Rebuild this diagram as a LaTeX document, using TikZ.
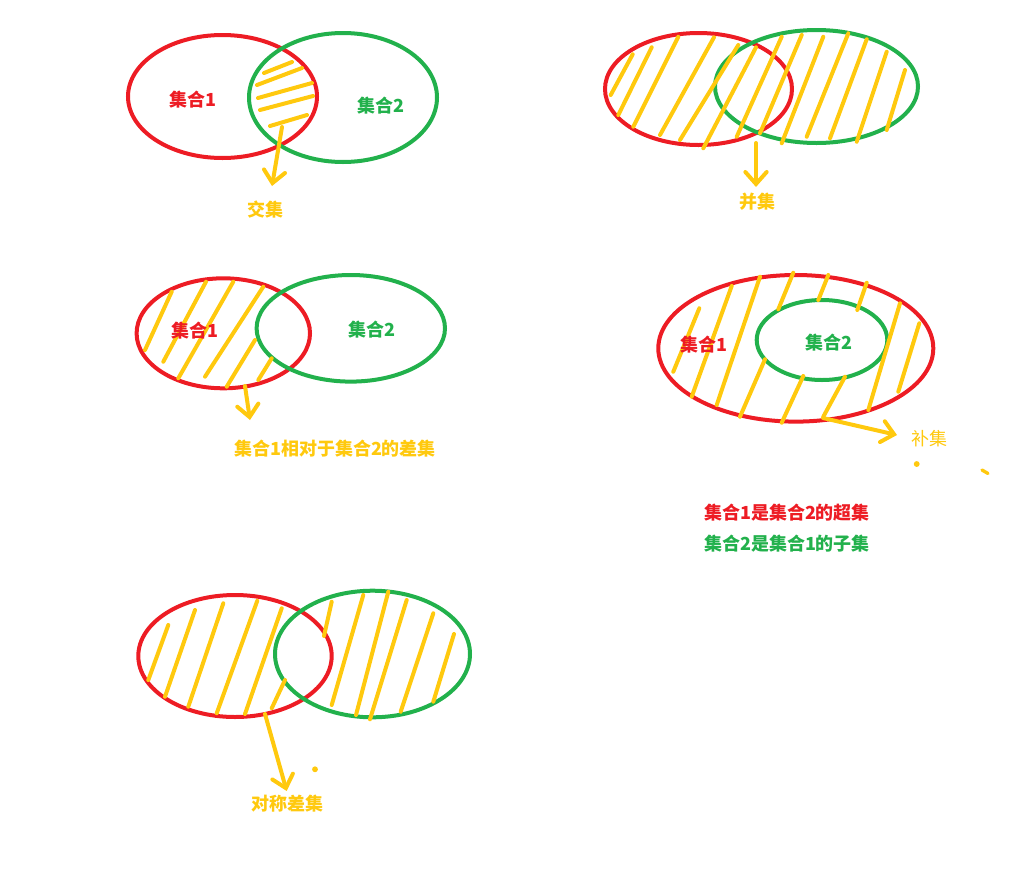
\documentclass[tikz,border=0pt]{standalone}
\usepackage{fontspec}
\newfontfamily\cjk{Noto Sans CJK SC}
\usetikzlibrary{arrows.meta}
\definecolor{sred}{HTML}{ED1C24}
\definecolor{sgreen}{HTML}{22B14C}
\definecolor{syel}{HTML}{FFC90E}
\tikzset{
  setred/.style={draw=sred,line width=3pt},
  setgreen/.style={draw=sgreen,line width=3pt},
  hatch/.style={draw=syel,line width=3pt,line cap=round},
  pointer/.style={draw=syel,line width=3pt,line cap=round,line join=round,-{Straight Barb[length=9pt,width=16pt,line cap=round]}},
  lbl/.style={font=\cjk\bfseries\fontsize{13.5pt}{15pt}\selectfont,inner sep=0pt},
}
\begin{document}
\begin{tikzpicture}[x=0.75pt,y=-0.75pt]
\useasboundingbox (0,0) rectangle (1025,868);
% ---------- diagram 1: intersection ----------
\draw[setred] (222.5,96.5) ellipse [x radius=94.5,y radius=61.5];
\draw[setgreen] (343,97.5) ellipse [x radius=94,y radius=64.5];
\draw[hatch] (264,73)--(292,62);
\draw[hatch] (257,85)--(302,68);
\draw[hatch] (258,98)--(312,83);
\draw[hatch] (260,110)--(313,96);
\draw[hatch] (270,126)--(307,115);
\node[lbl,text=sred] (l1a) at (193,100) {集合1};
\node[lbl,text=sgreen] (l1b) at (381,106) {集合2};
\node[lbl,text=syel] (t1) at (265,210) {交集};
\coordinate (s1) at (282,127);
\coordinate (e1) at (272,186);
\draw[pointer] (s1)--(e1);
% ---------- diagram 2: union ----------
\draw[setred] (698.5,89) ellipse [x radius=93.5,y radius=56];
\draw[setgreen] (816.5,86.5) ellipse [x radius=101.5,y radius=56.5];
\draw[hatch] (610.7,95)--(632.7,54.3);
\draw[hatch] (618.3,115)--(651.7,47.3);
\draw[hatch] (633.3,126.7)--(678.3,36.7);
\draw[hatch] (660,135)--(714,37.3);
\draw[hatch] (680,140)--(738.3,45);
\draw[hatch] (703.3,148.3)--(756,47.3);
\draw[hatch] (736.7,136.7)--(781.7,36.7);
\draw[hatch] (760,133.3)--(801.7,35);
\draw[hatch] (781.7,143.3)--(823.3,36.7);
\draw[hatch] (806.7,136.7)--(848.3,33.3);
\draw[hatch] (830,138.3)--(866.7,39.3);
\draw[hatch] (856.7,141.7)--(886.7,51.7);
\draw[hatch] (886.7,130)--(905,70);
\node[lbl,text=syel] (t2) at (757,202) {并集};
\coordinate (s2) at (756,143);
\coordinate (e2) at (756,187);
\draw[pointer] (s2)--(e2);
% ---------- diagram 3: difference ----------
\draw[setred] (223.3,333.3) ellipse [x radius=86.7,y radius=55];
\draw[setgreen] (350.8,328.3) ellipse [x radius=94.2,y radius=53.3];
\draw[hatch] (145,350)--(171.7,291.7);
\draw[hatch] (163.3,361.7)--(206,281.7);
\draw[hatch] (178.3,378.3)--(233.3,281.7);
\draw[hatch] (205,376.7)--(263.3,286.7);
\draw[hatch] (226.7,386.7)--(255,340);
\draw[hatch] (258.3,380)--(271.7,358.3);
\node[lbl,text=sred] (l3a) at (195,331) {集合1};
\node[lbl,text=sgreen] (l3b) at (372,330) {集合2};
\node[lbl,text=syel] (t3) at (335,449) {集合1相对于集合2的差集};
\coordinate (s3) at (245,386);
\coordinate (e3) at (250,420);
\draw[pointer] (s3)--(e3);
% ---------- diagram 4: complement ----------
\draw[setred] (795.8,348.3) ellipse [x radius=137.5,y radius=73.3];
\draw[setgreen] (822,340) ellipse [x radius=65.3,y radius=40];
\draw[hatch] (673.3,371.7)--(699.3,308.3);
\draw[hatch] (691.7,396.7)--(731.7,286);
\draw[hatch] (716.7,405)--(760,276.7);
\draw[hatch] (740,416.7)--(765,359.3);
\draw[hatch] (778.3,309.3)--(793.3,272.7);
\draw[hatch] (781.7,422.7)--(803.3,376);
\draw[hatch] (818.3,300)--(828.3,275);
\draw[hatch] (823.3,416.7)--(845,376.7);
\draw[hatch] (857.3,310)--(866.7,282.7);
\draw[hatch] (868.3,410)--(900,303.3);
\draw[hatch] (898.3,391.7)--(919.3,323.3);
\node[lbl,text=sred] (l4a) at (704,345) {集合1};
\node[lbl,text=sgreen] (l4b) at (829,343) {集合2};
\node[font=\cjk\fontsize{13.5pt}{15pt}\selectfont,inner sep=0pt,text=syel] (t4) at (929,439) {补集};
\coordinate (s4) at (823,418);
\coordinate (e4) at (897,435);
\draw[pointer] (s4)--(e4);
\fill[syel] (916.7,464) circle (2.2pt);
\draw[hatch,line width=2.5pt] (982,470)--(988,473.5);
\node[lbl,text=sred] (c1) at (787,513) {集合1是集合2的超集};
\node[lbl,text=sgreen] (c2) at (787,544) {集合2是集合1的子集};
% ---------- diagram 5: symmetric difference ----------
\draw[setred] (235,656) ellipse [x radius=96.7,y radius=61];
\draw[setgreen] (372.5,654) ellipse [x radius=97.5,y radius=63.3];
\draw[hatch] (148.3,680)--(168.3,625);
\draw[hatch] (165,696.7)--(195,610);
\draw[hatch] (188.3,706.7)--(223.3,603.3);
\draw[hatch] (216.7,713.3)--(257.3,600.7);
\draw[hatch] (245,714)--(281.7,608.3);
\draw[hatch] (271.7,708.3)--(285,680);
\draw[hatch] (324,636)--(331.7,601.7);
\draw[hatch] (331.7,705)--(363.3,595);
\draw[hatch] (356,715)--(388.3,591.7);
\draw[hatch] (370,719.3)--(406.7,600);
\draw[hatch] (400.7,711.7)--(433.3,613.3);
\draw[hatch] (433.3,701.7)--(454,634);
\node[lbl,text=syel] (t5) at (287,804) {对称差集};
\coordinate (s5) at (265,714);
\coordinate (e5) at (286.7,791);
\draw[pointer] (s5)--(e5);
\fill[syel] (315,769.3) circle (2.2pt);
\end{tikzpicture}
\end{document}
